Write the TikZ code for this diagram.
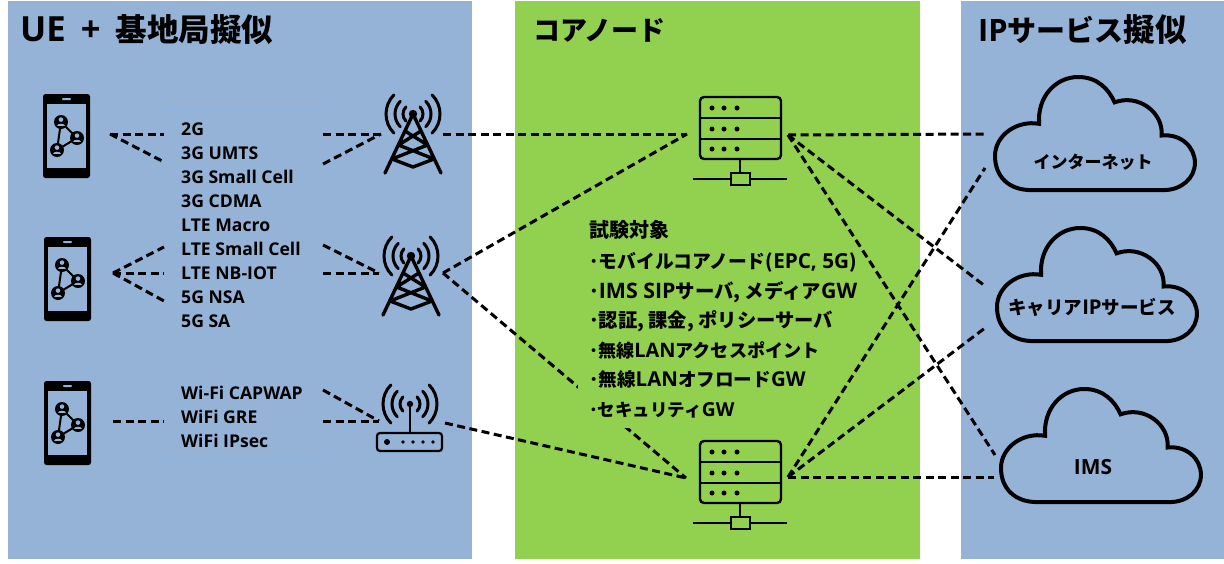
\documentclass[tikz,border=0pt]{standalone}
\usepackage{fontspec}
\setmainfont{Noto Sans CJK JP}
\newfontfamily\lat[Scale=1.1]{Open Sans}
\definecolor{pblue}{HTML}{95B3D7}
\definecolor{pgreen}{HTML}{92D050}
\definecolor{fblue}{HTML}{8EB4E3}
\newcommand{\fsz}[1]{\fontsize{#1}{29.5}\selectfont}
\tikzset{
  panelbox/.style={fill=#1,draw=none},
  link/.style={draw=black,line width=3pt,dash pattern=on 8pt off 4.5pt},
  titletext/.style={font=\fontsize{31.5}{36}\selectfont\bfseries,anchor=west,inner sep=0pt},
  listtext/.style={font=\fontsize{16}{24}\selectfont\bfseries\lat,anchor=north west,align=left,inner sep=0pt},
  cloudtext/.style={font=\fontsize{17}{20}\selectfont\bfseries,inner sep=0pt},
  pics/person/.style={code={
    \fill[black] (0,0) circle[radius=7];
    \fill[pblue] (0,-2.4) circle[radius=2.3];
    \fill[pblue] (-3.8,4) .. controls (-3.8,0.6) and (3.8,0.6) .. (3.8,4) -- cycle;
  }},
  pics/phone/.style={code={
    \fill[black,rounded corners=2.5pt] (0,0) rectangle (47,84);
    \fill[pblue] (4,10) rectangle (43,73.5);
    \fill[pblue,rounded corners=0.8pt] (19,4) rectangle (28,6);
    \draw[black,line width=2pt] (18,28) -- (34,44) -- (14,56) -- cycle;
    \path (18,28) pic {person} (34,44) pic {person} (14,56) pic {person};
  }},
  pics/waves/.style={code={
    \foreach \r in {10,18,27}{
      \draw[black,line width=3pt,line cap=round] (225:\r) arc[start angle=225,end angle=135,radius=\r];
      \draw[black,line width=3pt,line cap=round] (-45:\r) arc[start angle=-45,end angle=45,radius=\r];
    }
  }},
  pics/tower/.style={code={
    \path (0,0) pic {waves};
    \fill[black] (0,0) circle[radius=4.2];
    \draw[black,line width=3.4pt,line cap=round,line join=round]
      (-28,59) -- (0,0) -- (28,59)
      (-8,17) -- (14.5,31) (8,17) -- (-14.5,31)
      (-14.5,31) -- (21,45) (14.5,31) -- (-21,45)
      (-21,45) -- (0,53) -- (21,45);
  }},
  pics/router/.style={code={
    \path (0,0) pic {waves};
    \fill[black] (0,0) circle[radius=3.2];
    \draw[black,line width=2.4pt] (0,0) -- (0,29);
    \draw[black,line width=2.2pt,rounded corners=3pt] (-33,29) rectangle (32,47);
    \fill[black] (-23,38) circle[radius=3];
    \foreach \x in {-7,3,13,23} \fill[black] (\x,38) circle[radius=1.9];
  }},
  pics/server/.style={code={
    \draw[black,line width=2.4pt,rounded corners=4pt] (0,0) rectangle (81,62);
    \draw[black,line width=2.4pt] (0,21) -- (81,21) (0,42) -- (81,42);
    \foreach \y in {11,32,52} \foreach \x in {12,24,37} \fill[black] (\x,\y) circle[radius=2.5];
    \draw[black,line width=2.2pt] (40,62) -- (40,77) (-7,82) -- (87,82);
    \draw[black,line width=2.2pt,fill=pgreen] (31,76) rectangle (50,88);
  }},
  pics/cloud/.style={code={
    \draw[black,line width=4pt,line join=miter,xscale=.98,yscale=.975]
      (37,116) .. controls (14,116) and (0,102) .. (0,81)
      .. controls (0,60) and (22,44) .. (45,48)
      .. controls (43,20) and (62,0) .. (85,0)
      .. controls (104,0) and (116,12) .. (122,26)
      .. controls (146,17) and (172,36) .. (170,60)
      .. controls (190,58) and (204,72) .. (204,88)
      .. controls (204,104) and (190,116) .. (172,116) -- cycle;
  }}
}
\begin{document}
\begin{tikzpicture}[x=1pt,y=-1pt]
\useasboundingbox (0,0) rectangle (1224,563);
\fill[white] (0,0) rectangle (1224,563);
\path[panelbox=pblue] (8,1) rectangle (472,559);
\path[panelbox=pgreen] (515,1) rectangle (920,559);
\path[panelbox=pblue] (961,1) rectangle (1224,559);
\node[titletext] (t1) at (20,30) {{\lat UE\hspace{15pt}+\hspace{15pt}}基地局擬似};
\node[titletext] (t2) at (533,30) {\fontsize{27}{32}\selectfont コアノード};
\node[titletext] (t3) at (978,30) {{\fontsize{28}{32}\selectfont\lat IP}{\fontsize{29}{32}\selectfont サービス}擬似};
\draw[fblue,line width=0.6pt] (165,110) rectangle (323,460);
\path (43,94) pic {phone} (44,237) pic {phone} (44,381) pic {phone};
\path (413,114) pic {tower} (411,256) pic {tower} (410,404) pic {router};
\path (700,97) pic {server} (700,441) pic {server};
\path (995,77) pic {cloud} (997,228) pic {cloud} (1001,389) pic {cloud};
% named ends
\coordinate (p1) at (110,134); \coordinate (p2) at (113,273); \coordinate (p3) at (113,421);
\coordinate (la) at (164,134); \coordinate (lb) at (164,162);
\coordinate (lc) at (164,247); \coordinate (ld) at (164,273); \coordinate (le) at (164,301);
\coordinate (lf) at (164,421);
\coordinate (ra) at (323,134); \coordinate (rb) at (323,164);
\coordinate (rc) at (323,245); \coordinate (rd) at (323,273);
\coordinate (re) at (323,390); \coordinate (rf) at (323,421);
\coordinate (ti1) at (381,134); \coordinate (ti2) at (379,273); \coordinate (ri) at (379,421);
\coordinate (to1) at (443,134); \coordinate (to2) at (443,273); \coordinate (ro) at (445,423);
\coordinate (si1) at (687,134); \coordinate (si2) at (686,478);
\coordinate (so1) at (788,135); \coordinate (so2) at (788,477);
\coordinate (c1a) at (985,134); \coordinate (c1b) at (985,168);
\coordinate (c2a) at (985,286); \coordinate (c2b) at (985,328);
\coordinate (c3a) at (995,455); \coordinate (c3b) at (994,477);
% hidden behind the text block
\draw[link] (to2) -- (si2);
\node[fill=pgreen,inner sep=0pt,minimum width=288pt,minimum height=212pt,anchor=north west] (mask) at (578,216) {};
\node[font=\fsz{19}\bfseries,anchor=north west,align=left,inner sep=0pt] (targets) at (589,220) {%
{\fsz{20}試験対象}\\[2pt]
{\fsz{18.8}･モバイルコアノード({\lat EPC, 5G})}\\
{\fsz{19.4}･{\lat IMS SIP}サーバ, メディア{\lat GW}}\\
{\fsz{19.3}･認証, 課金, ポリシーサーバ}\\
{\fsz{18.1}･無線{\lat LAN}アクセスポイント}\\
{\fsz{18.6}･無線{\lat LAN}オフロード{\lat GW}}\\
{\fsz{17.5}･セキュリティ{\lat GW}}};
\foreach \a/\b in {p1/la,p1/lb,p2/lc,p2/ld,p2/le,p3/lf,ra/ti1,rb/ti1,rc/ti2,rd/ti2,re/ri,rf/ri,to1/si1,to2/si1,ro/si2,so1/c1a,so1/c2a,so1/c3a,so2/c1b,so2/c2b,so2/c3b}
  \draw[link] (\a) -- (\b);
\node[listtext] (l1) at (181,123) {2G\\3G UMTS\\3G Small Cell\\3G CDMA\\LTE Macro\\LTE Small Cell\\LTE NB-IOT\\5G NSA\\5G SA};
\node[listtext] (l2) at (181,386) {Wi-Fi CAPWAP\\WiFi GRE\\WiFi IPsec};
\node[cloudtext] (n1) at (1093,162) {インターネット};
\node[cloudtext,font=\fontsize{18.5}{20}\selectfont\bfseries] (n2) at (1092,307) {キャリア{\lat IP}サービス};
\node[cloudtext,font=\fontsize{19}{20}\selectfont\bfseries] (n3) at (1093,467) {\lat IMS};
\end{tikzpicture}
\end{document}
